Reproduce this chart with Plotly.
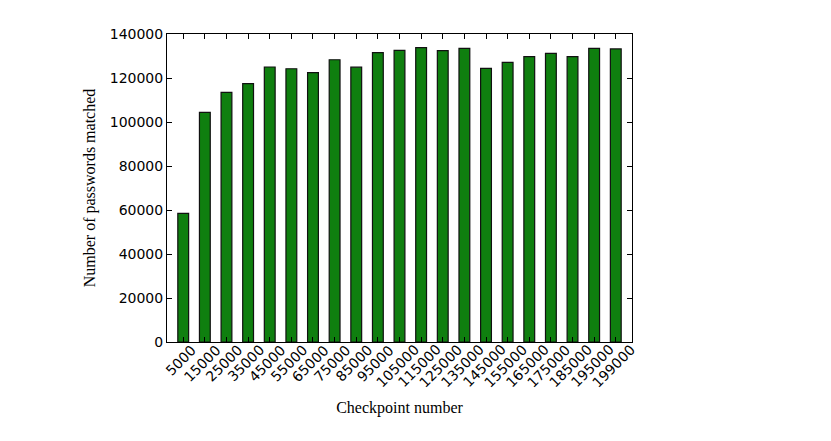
import plotly.graph_objects as go

checkpoints = ["5000", "15000", "25000", "35000", "45000", "55000", "65000", "75000",
               "85000", "95000", "105000", "115000", "125000", "135000", "145000",
               "155000", "165000", "175000", "185000", "195000", "199000"]
matched = [58500, 104400, 113500, 117400, 125000, 124200, 122400, 128300,
           124900, 131500, 132600, 133800, 132400, 133500, 124400,
           127100, 129700, 131200, 129700, 133500, 133200]
y_ticks = [0, 20000, 40000, 60000, 80000, 100000, 120000, 140000]

fig = go.Figure()
fig.add_trace(go.Bar(
    x=checkpoints, y=matched,
    marker=dict(color="#0f7f0f", line=dict(color="#111111", width=1.2)),
    width=0.5,
))

# rotated tick labels centred under each tick (matplotlib-style)
for i, c in enumerate(checkpoints):
    fig.add_annotation(
        x=i, xref="x", y=0, yref="paper",
        text=c, textangle=-45, showarrow=False,
        xanchor="center", yanchor="top", yshift=3, xshift=-2,
        font=dict(family="DejaVu Sans", size=14, color="black"),
    )

fig.update_layout(
    width=831, height=441,
    margin=dict(l=167, r=199, t=34, b=99),
    paper_bgcolor="white", plot_bgcolor="white",
    showlegend=False,
    font=dict(family="DejaVu Sans", size=14, color="black"),
)
fig.update_xaxes(
    type="category", range=[-0.75, 20.75],
    showticklabels=False, ticks="inside", ticklen=5, tickcolor="black",
    showline=True, linecolor="black", linewidth=1, mirror="allticks",
    showgrid=False, zeroline=False,
    title=dict(text="Checkpoint number", font=dict(family="Liberation Serif", size=16), standoff=59),
)
fig.update_yaxes(
    range=[0, 140000], tickvals=y_ticks, tickformat="d",
    ticks="inside", ticklen=5, tickcolor="black",
    showline=True, linecolor="black", linewidth=1, mirror="allticks",
    showgrid=False, zeroline=False,
    tickfont=dict(family="DejaVu Sans", size=14),
    title=dict(text="Number of passwords matched", font=dict(family="Liberation Serif", size=16), standoff=10),
)

fig.write_html("out.html")
